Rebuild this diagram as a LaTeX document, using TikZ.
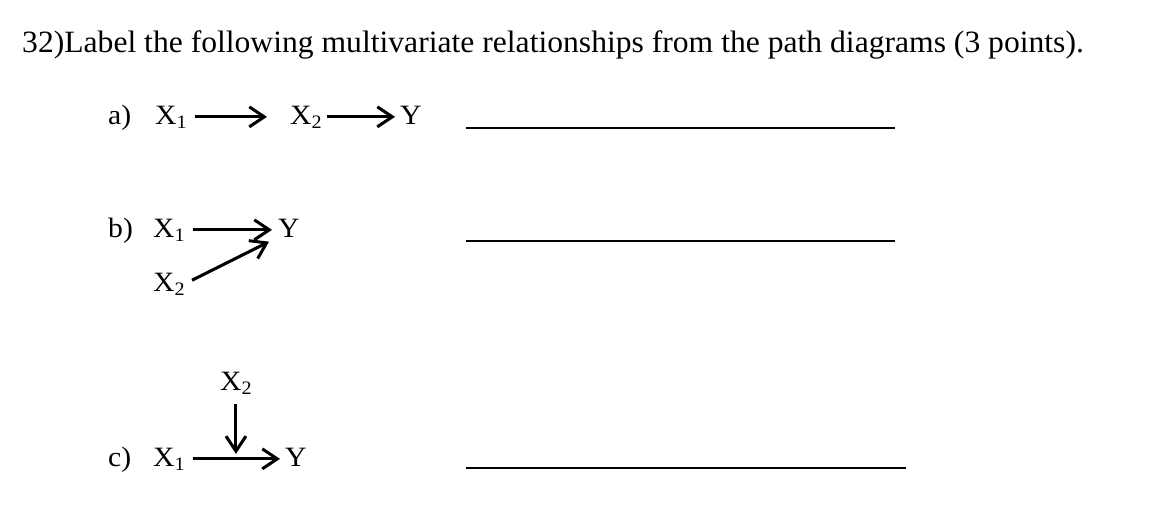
\documentclass[tikz,border=0pt]{standalone}
\usepackage{fontspec}
\setmainfont[FakeStretch=1.02]{Liberation Serif}
\newfontfamily\diagfont[FakeStretch=1.06]{Liberation Serif}
\newcommand\idx[1]{\raisebox{-4pt}{\fontsize{19}{20}\selectfont#1}}
\usetikzlibrary{arrows.meta}

\begin{document}
\begin{tikzpicture}[x=1pt,y=-1pt,
  every node/.style={inner sep=0pt,anchor=base west,
    font=\diagfont\fontsize{28}{30}\selectfont},
  arr/.style={line width=3pt,-{Straight Barb[length=15pt,width=20pt]},
    shorten <=8pt,shorten >=6pt},
  blank/.style={line width=1.5pt}]
\useasboundingbox (0,0) rectangle (1167,509);

\node [font=\fontsize{31}{36}\selectfont] (title) at (22,52)
  {32)Label the following multivariate relationships from the path diagrams (3 points).};

% a)
\node (laba) at (108,124) {a)};
\node (x1a)  at (155,124) {X\idx{1}};
\node (x2a)  at (290,124) {X\idx{2}};
\node (ya)   at (400,124) {Y};
\draw [arr,shorten >=23pt] (x1a.east) -- (x1a.east -| x2a.west);
\draw [arr,shorten <=5pt,shorten >=5pt] (x2a.east) -- (x2a.east -| ya.west);
\draw [blank] (466,128) -- (895,128);

% b)
\node (labb) at (108,237) {b)};
\node (x1b)  at (153,237) {X\idx{1}};
\node (x2b)  at (153,291) {X\idx{2}};
\node (yb)   at (278,237) {Y};
\draw [arr] (x1b.east) -- (x1b.east -| yb.west);
\draw [arr,shorten >=10pt] (x2b.east) -- (yb.south west);
\draw [blank] (466,241) -- (895,241);

% c)
\node (labc) at (108,466) {c)};
\node (x1c)  at (153,466) {X\idx{1}};
\node (x2c)  at (220,390) {X\idx{2}};
\node (yc)   at (285,466) {Y};
\draw [arr,shorten >=5pt] (x1c.east) -- (x1c.east -| yc.west);
\draw [arr,shorten <=10pt,shorten >=0pt] (x2c.south) -- ([yshift=5pt]x2c.south |- x1c.east);
\draw [blank] (466,468) -- (906,468);
\end{tikzpicture}
\end{document}
